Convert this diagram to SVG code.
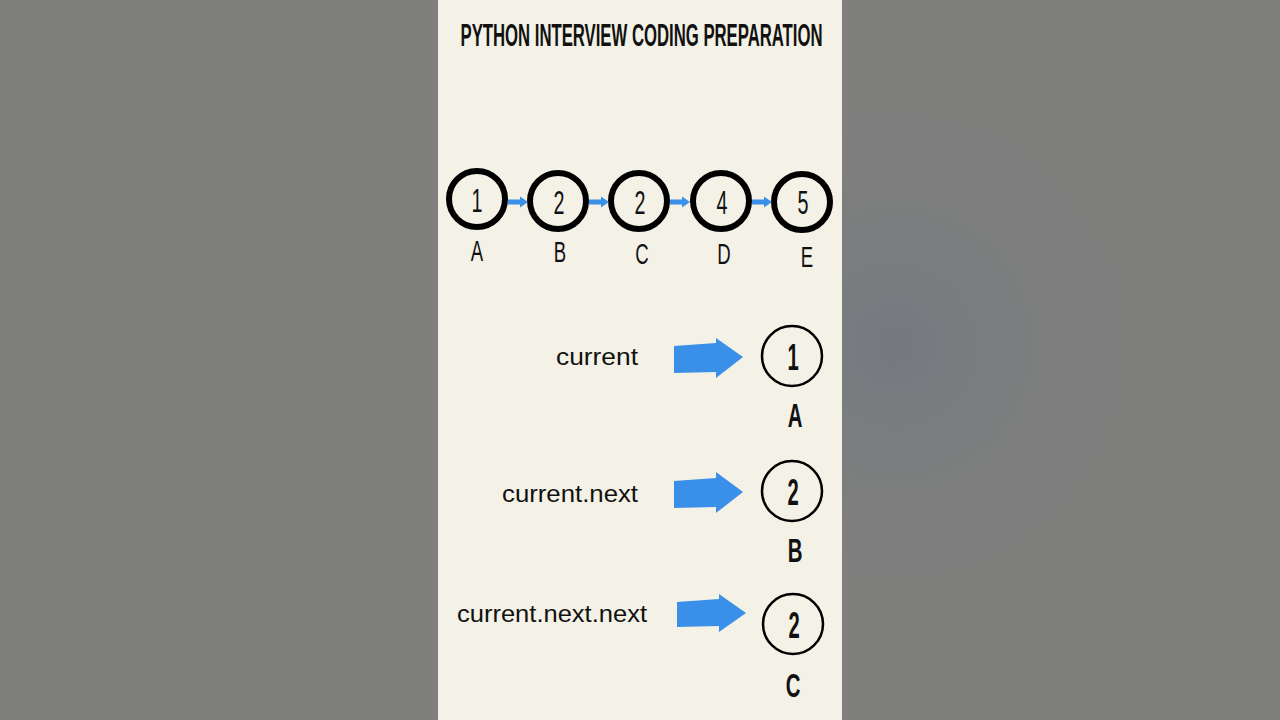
<svg xmlns="http://www.w3.org/2000/svg" width="1280" height="720" viewBox="0 0 1280 720">
  <defs>
    <radialGradient id="blob" cx="895" cy="345" r="260" gradientUnits="userSpaceOnUse">
      <stop offset="0" stop-color="#73787f" stop-opacity="0.9"/>
      <stop offset="1" stop-color="#7f7f7e" stop-opacity="0"/>
    </radialGradient>
    <style>
      .cond { font-family: "Liberation Sans", "DejaVu Sans", sans-serif; fill: #111; text-anchor: middle; }
      .bold { font-weight: bold; }
      .ring { fill: none; stroke: #000; stroke-width: 6; }
      .thin { fill: none; stroke: #000; stroke-width: 2.5; }
      .lbl { font-family: "Liberation Sans", "Helvetica", "Arial", sans-serif; font-size: 24px; fill: #111; text-anchor: end; }
      .arrow { fill: #3a8fe8; }
    </style>
  </defs>

  <rect x="0" y="0" width="1280" height="720" fill="#7f7f7e"/>
  <rect x="0" y="0" width="1280" height="720" fill="url(#blob)"/>
  <rect x="438" y="0" width="404" height="720" fill="#f4f1e6"/>

  <text id="title" class="cond bold" x="641.5" y="46" font-size="32" textLength="362" lengthAdjust="spacingAndGlyphs">PYTHON INTERVIEW CODING PREPARATION</text>

  <!-- top linked list -->
  <g id="nodeA">
    <circle class="ring" cx="477" cy="199" r="28"/>
    <text class="cond" font-size="34" transform="translate(477,211.5) scale(0.58,1)">1</text>
    <text class="cond" font-size="30" transform="translate(477,261) scale(0.62,1)">A</text>
  </g>
  <g id="nodeB">
    <circle class="ring" cx="558" cy="201" r="28"/>
    <text class="cond" font-size="34" transform="translate(559,213.5) scale(0.58,1)">2</text>
    <text class="cond" font-size="30" transform="translate(560,262) scale(0.62,1)">B</text>
  </g>
  <g id="nodeC">
    <circle class="ring" cx="639" cy="201" r="28"/>
    <text class="cond" font-size="34" transform="translate(640,213.5) scale(0.58,1)">2</text>
    <text class="cond" font-size="30" transform="translate(642,264) scale(0.62,1)">C</text>
  </g>
  <g id="nodeD">
    <circle class="ring" cx="721" cy="201" r="28"/>
    <text class="cond" font-size="34" transform="translate(722,213.5) scale(0.58,1)">4</text>
    <text class="cond" font-size="30" transform="translate(724,264) scale(0.62,1)">D</text>
  </g>
  <g id="nodeE">
    <circle class="ring" cx="802" cy="202" r="28"/>
    <text class="cond" font-size="34" transform="translate(803,214) scale(0.58,1)">5</text>
    <text class="cond" font-size="30" transform="translate(807,267) scale(0.62,1)">E</text>
  </g>

  <g id="connectors">
    <polygon class="arrow" points="508,199.5 520,199.5 520,196.5 528,202 520,207.5 520,204.5 508,204.5"/>
    <polygon class="arrow" points="589,199.5 601,199.5 601,196.5 609,202 601,207.5 601,204.5 589,204.5"/>
    <polygon class="arrow" points="670,199.5 682,199.5 682,196.5 690,202 682,207.5 682,204.5 670,204.5"/>
    <polygon class="arrow" points="752,199.5 764,199.5 764,196.5 772,202 764,207.5 764,204.5 752,204.5"/>

    <polygon class="arrow" points="674,346 716,343 716,338 743,357 716,378 716,372 674,373"/>
    <polygon class="arrow" points="674,481 716,478 716,472 743,492 716,513 716,507 674,508"/>
    <polygon class="arrow" points="677,602 719,599 719,594 746,613 719,632 719,626 677,627"/>
  </g>

  <!-- pointer rows -->
  <g id="rowCurrent">
    <text class="lbl" x="638" y="365" textLength="82" lengthAdjust="spacingAndGlyphs">current</text>
    <circle class="thin" cx="792" cy="356" r="30"/>
    <text class="cond bold" font-size="36" transform="translate(793,369.5) scale(0.56,1)">1</text>
    <text class="cond bold" font-size="34" transform="translate(795,427) scale(0.6,1)">A</text>
  </g>
  <g id="rowNext">
    <text class="lbl" x="638" y="502" textLength="136" lengthAdjust="spacingAndGlyphs">current.next</text>
    <circle class="thin" cx="792" cy="491" r="30"/>
    <text class="cond bold" font-size="36" transform="translate(793,504.5) scale(0.56,1)">2</text>
    <text class="cond bold" font-size="34" transform="translate(795,562) scale(0.6,1)">B</text>
  </g>
  <g id="rowNextNext">
    <text class="lbl" x="647" y="622" textLength="190" lengthAdjust="spacingAndGlyphs">current.next.next</text>
    <circle class="thin" cx="793" cy="624" r="30"/>
    <text class="cond bold" font-size="36" transform="translate(794,637.5) scale(0.56,1)">2</text>
    <text class="cond bold" font-size="34" transform="translate(793,697) scale(0.6,1)">C</text>
  </g>
</svg>
